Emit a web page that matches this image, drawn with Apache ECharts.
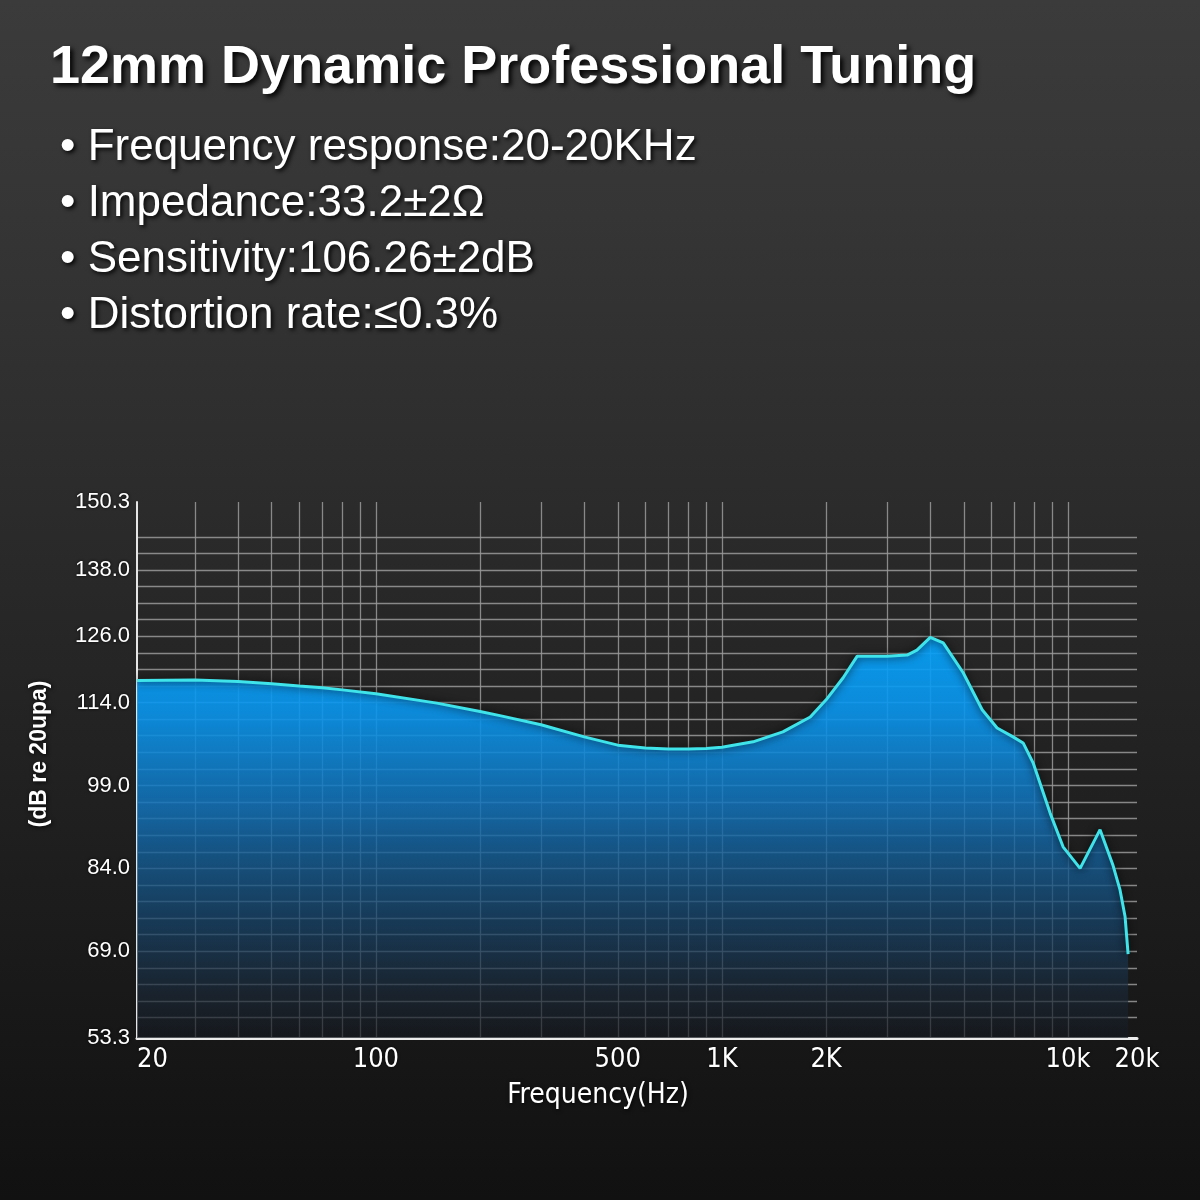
<!DOCTYPE html>
<html><head><meta charset="utf-8">
<script src="https://cdn.jsdelivr.net/npm/echarts@6/dist/echarts.min.js"></script>
<style>
html,body{margin:0;padding:0;width:1200px;height:1200px;overflow:hidden;background:#1c1c1c;}
#chart{width:1200px;height:1200px;background:linear-gradient(to bottom,#3b3b3b 0%,#353535 18%,#2d2d2d 38%,#242424 58%,#1a1a1a 80%,#111111 100%);}
</style></head><body><div id="chart"></div>
<script>
const titleText = '12mm Dynamic Professional Tuning';
const specLines = ['• Frequency response:20-20KHz', '• Impedance:33.2±2Ω', '• Sensitivity:106.26±2dB', '• Distortion rate:≤0.3%'];
const yAxisName = '(dB re 20upa)';
const xAxisName = 'Frequency(Hz)';

const freqs = [20.4,30,40,50,60,70,80,100,150,200,230,300,400,500,600,700,800,900,1000,1230,1500,1800,2000,2240,2460,3000,3430,3660,4000,4360,4980,5650,6240,6940,7420,7930,8880,9680,10840,12380,13500,14140,14620,14920];
const spl = [118.0,118.1,117.8,117.4,117.0,116.7,116.3,115.6,113.9,112.4,111.6,110.0,107.8,106.3,105.8,105.6,105.6,105.7,105.9,106.9,108.7,111.4,114.5,118.5,122.4,122.4,122.6,123.5,125.8,124.8,119.4,112.7,109.4,107.8,106.7,103.1,94.0,87.9,84.0,91.0,84.5,80.1,75.3,68.5];

const yTickValues = [53.3, 69, 84, 99, 114, 126, 138, 150.3];
const yGridValues = [57,60,63,66,69,72,75,78,81,84,87,90,93,96,99,102,105,108,111,114,117,120,123,126,129,132,135,138,141,144];
const xTickValues = [20.4, 100, 500, 1000, 2000, 10000, 15830];
const xTickLabels = ['20', '100', '500', '1K', '2K', '10k', '20k'];
const xGridValues = [30,40,50,60,70,80,90,100,200,300,400,500,600,700,800,900,1000,2000,3000,4000,5000,6000,7000,8000,9000,10000];

const chart = echarts.init(document.getElementById('chart'), null, {renderer: 'canvas'});
const gridLine = {show: true, lineStyle: {color: '#9a9a9a', width: 1.3, opacity: 0.85}};
const shadowText = {textShadowColor: 'rgba(0,0,0,0.9)', textShadowBlur: 4, textShadowOffsetX: 1, textShadowOffsetY: 1};

const graphics = [
  {type: 'text', x: 50, y: 68, z: 10, style: Object.assign({text: titleText, font: 'bold 54px "Liberation Sans", Arial, sans-serif', fill: '#ffffff', align: 'left', verticalAlign: 'middle'}, {textShadowColor: 'rgba(0,0,0,0.95)', textShadowBlur: 5, textShadowOffsetX: 3, textShadowOffsetY: 3})},
  {type: 'text', x: 40, y: 754, rotation: Math.PI / 2, z: 10, style: Object.assign({text: yAxisName, font: 'bold 23px "Liberation Sans", Arial, sans-serif', fill: '#ffffff', align: 'center', verticalAlign: 'middle'}, shadowText)},
  {type: 'text', x: 598, y: 1096, z: 10, style: Object.assign({text: xAxisName, font: '28px "Liberation Sans Narrow", "DejaVu Sans Condensed", sans-serif', fill: '#ffffff', align: 'center', verticalAlign: 'middle'}, shadowText)}
];
specLines.forEach((t, i) => {
  graphics.push({type: 'text', x: 60, y: 148 + i * 56, z: 10, style: Object.assign({text: t, font: '44px "Liberation Sans", Arial, sans-serif', fill: '#ffffff', align: 'left', verticalAlign: 'middle'}, {textShadowColor: 'rgba(0,0,0,0.95)', textShadowBlur: 4, textShadowOffsetX: 2, textShadowOffsetY: 2})});
});

chart.setOption({
  animation: false,
  grid: {left: 137, right: 63, top: 502, bottom: 162, containLabel: false, outerBoundsMode: 'none'},
  xAxis: {
    type: 'log', logBase: 10, min: 20.4, max: 15830,
    axisLine: {show: true, onZero: false, lineStyle: {color: '#ececec', width: 3}},
    axisTick: {show: false, customValues: xGridValues},
    axisLabel: {
      customValues: xTickValues,
      alignMinLabel: 'left',
      formatter: function (v) {
        for (let i = 0; i < xTickValues.length; i++) {
          if (Math.abs(xTickValues[i] - v) / xTickValues[i] < 0.01) return xTickLabels[i];
        }
        return '';
      },
      color: '#ffffff', fontSize: 27, fontFamily: '"Liberation Sans Narrow", "DejaVu Sans Condensed", sans-serif',
      margin: 8, textShadowColor: 'rgba(0,0,0,0.9)', textShadowBlur: 3
    },
    splitLine: gridLine
  },
  yAxis: {
    type: 'value', min: 53.3, max: 150.3,
    axisLine: {show: true, lineStyle: {color: '#e6e6e6', width: 2}},
    axisTick: {show: false, customValues: yGridValues},
    axisLabel: {
      customValues: yTickValues,
      formatter: function (v) { return Number(v).toFixed(1); },
      color: '#ffffff', fontSize: 22, fontFamily: '"Liberation Sans", Arial, sans-serif',
      margin: 7, textShadowColor: 'rgba(0,0,0,0.9)', textShadowBlur: 3
    },
    splitLine: gridLine
  },
  series: [{
    type: 'line',
    data: freqs.map((f, i) => [f, spl[i]]),
    symbol: 'none',
    smooth: false,
    lineStyle: {color: '#3fe4ea', width: 3, shadowColor: 'rgba(0,0,0,0.85)', shadowBlur: 8},
    areaStyle: {
      color: new echarts.graphic.LinearGradient(0, 630, 0, 1038, [
        {offset: 0, color: 'rgba(6,164,252,0.92)'},
        {offset: 0.2, color: 'rgba(10,150,238,0.9)'},
        {offset: 0.45, color: 'rgba(18,112,182,0.84)'},
        {offset: 0.7, color: 'rgba(22,70,110,0.76)'},
        {offset: 0.9, color: 'rgba(26,38,52,0.7)'},
        {offset: 1, color: 'rgba(22,26,32,0.7)'}
      ], true),
      opacity: 1
    }
  }],
  graphic: graphics
});
</script>
</body></html>
